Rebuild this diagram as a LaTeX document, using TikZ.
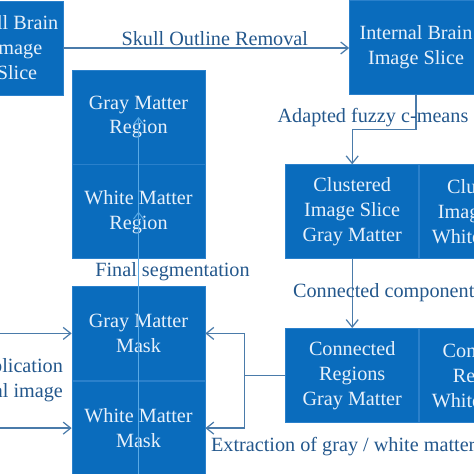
\documentclass[tikz,border=0pt]{standalone}
\usepackage{fontspec}
\setmainfont{Liberation Serif}
\usetikzlibrary{arrows.meta,positioning,calc}
\definecolor{boxblue}{HTML}{0A6CBD}
\definecolor{boxline}{HTML}{2A80CB}
\definecolor{boxtext}{HTML}{E8F1FB}
\definecolor{lbltext}{HTML}{23578C}
\definecolor{arrowline}{HTML}{4A7BAA}
\definecolor{segline}{HTML}{5AAAE6}

\begin{document}
\begin{tikzpicture}[
  box/.style={draw=boxline, fill=boxblue, text=boxtext, minimum width=2.66cm,
    minimum height=1.88cm, align=center, inner sep=0pt,
    font=\fontsize{11.5}{14.2}\selectfont},
  lbl/.style={font=\fontsize{11.5}{14.2}\selectfont, text=lbltext, align=center, inner sep=1pt},
  flow/.style={-{Straight Barb[length=1.5mm,width=2.4mm]}, draw=arrowline, line width=0.7pt},
  link/.style={draw=arrowline, line width=0.7pt},
  seg/.style={-{Straight Barb[length=1.3mm,width=2mm]}, draw=segline, line width=0.6pt},
]
  \useasboundingbox (0,0) rectangle (9.48,-9.48);
  \clip (0,0) rectangle (9.48,-9.48);

  % --- source slice and skull removal ---------------------------------
  \node[box, minimum width=1.84cm] (orig) at (0.34,-0.96) {Full Brain\\ Image\\ Slice};
  \node[box] (inner) at (8.32,-0.95) {Internal Brain\\ Image Slice};
  \draw[flow] (orig.east) -- node[lbl, above, pos=0.53] (skull) {Skull Outline Removal} (orig.east -| inner.west);

  % --- result column (left) -------------------------------------------
  \node[box] (greg) at (2.77,-2.34) {Gray Matter\\ Region};
  \node[box, below=0pt of greg] (wreg) {White Matter\\ Region};
  \node[box, below=0.54cm of wreg] (gmask) {Gray Matter\\ Mask};
  \node[box, below=0pt of gmask] (wmask) {White Matter\\ Mask};

  % --- clustering and components (right) ------------------------------
  \node[box, right=1.6cm of wreg] (clgray) {Clustered\\ Image Slice\\ Gray Matter};
  \node[box, right=0pt of clgray] (clwhite) {Clustered\\ Image Slice\\ White Matter};
  \node[box, below=1.38cm of clgray] (cngray) {Connected\\ Regions\\ Gray Matter};
  \node[box, right=0pt of cngray] (cnwhite) {Connected\\ Regions\\ White Matter};

  \coordinate (fork) at ($(inner.south)+(0,-0.7)$);
  \draw[flow] (inner.south) -- (fork) -| (clgray.north);
  \node[lbl] (fcm) at (7.46,-2.36) {Adapted fuzzy c-means};

  \draw[flow] (clgray) -- (cngray);
  \node[lbl, anchor=west] (cc) at (5.82,-5.86) {Connected components};

  % --- extraction of the masks ----------------------------------------
  \coordinate (split) at ($(cngray.west)+(-0.82,0)$);
  \draw[link] (cngray.west) -- (split);
  \draw[flow] (split) |- (gmask.east);
  \draw[flow] (split) |- (wmask.east);
  \node[lbl, anchor=west] (extr) at (4.18,-8.94) {Extraction of gray / white matter};

  % --- application on the original image ------------------------------
  \coordinate (gsrc) at ($(gmask.west)+(-2,0)$);
  \coordinate (wsrc) at ($(wmask.west)+(-2,0)$);
  \draw[flow] (gsrc) -- (gmask.west);
  \draw[flow] (wsrc) -- (wmask.west);
  \node[lbl, align=right, anchor=east] (apply) at (1.3,-7.6) {Application\\ original image};

  % --- final segmentation ---------------------------------------------
  \draw[seg] (wmask.south) -- (wreg.center);
  \draw[seg] (wmask.south) -- (greg.center);
  \node[lbl] (final) at (3.45,-5.44) {Final segmentation};
\end{tikzpicture}
\end{document}
